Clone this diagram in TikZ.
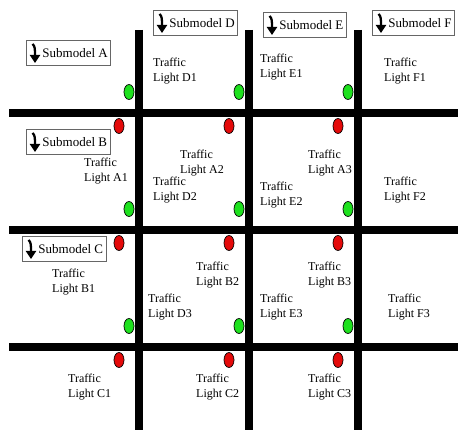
\documentclass[tikz,border=0pt]{standalone}
\usepackage{fontspec}
\setmainfont{Liberation Serif}
\usetikzlibrary{shapes.geometric,arrows.meta}
\definecolor{goGreen}{RGB}{30,225,30}
\definecolor{stopRed}{RGB}{228,10,10}
\tikzset{
    road/.style={line width=8.5pt},
    golight/.style={ellipse, draw, line width=0.7pt, fill=goGreen, minimum width=10pt, minimum height=15pt, inner sep=0pt},
    stoplight/.style={golight, fill=stopRed},
    tlabel/.style={anchor=west, align=left, inner sep=0pt, font=\fontsize{12}{14.5}\selectfont},
    subbox/.style={draw=gray!80!black, line width=0.9pt, anchor=west, minimum height=25pt, inner xsep=3pt,
        font=\fontsize{13}{15}\selectfont, execute at begin node=\hspace*{13pt}},
    turn/.style={line width=2.3pt, -{Triangle[length=8pt,width=10pt]}}
}
\begin{document}
\begin{tikzpicture}[x=1pt, y=-1pt]
    \useasboundingbox (0,0) rectangle (474,438);
    % Đường dọc và đường ngang
    \foreach \x in {139,249,358} \draw[road] (\x,30) -- (\x,430);
    \foreach \y in {113,230,347} \draw[road] (9,\y) -- (458,\y);
    % Đèn giao thông
    \foreach \x [count=\i] in {139,249,358}
        \foreach \y [count=\j] in {113,230,347} {
            \node[golight] (g\i\j) at (\x-10,\y-21) {};
            \node[stoplight] (r\i\j) at (\x-20,\y+13) {};
        }
    % Các submodel
    \node[subbox] (smA) at (26,53) {Submodel A};
    \node[subbox] (smB) at (26,142) {Submodel B};
    \node[subbox] (smC) at (22,249) {Submodel C};
    \node[subbox] (smD) at (153,23) {Submodel D};
    \node[subbox] (smE) at (263,25) {Submodel E};
    \node[subbox] (smF) at (372,23) {Submodel F};
    \foreach \s in {A,B,C,D,E,F}
        \draw[turn] ([xshift=6.5pt,yshift=9pt]sm\s.west) .. controls ([xshift=9pt,yshift=7pt]sm\s.west)
            and ([xshift=9pt,yshift=4pt]sm\s.west) .. ([xshift=9pt,yshift=-10pt]sm\s.west);
    % Nhãn đèn
    \node[tlabel] (tD1) at (153,71) {Traffic\\Light D1};
    \node[tlabel] (tE1) at (260,67) {Traffic\\Light E1};
    \node[tlabel] (tF1) at (384,71) {Traffic\\Light F1};
    \node[tlabel] (tA1) at (84,171) {Traffic\\Light A1};
    \node[tlabel] (tA2) at (180,163) {Traffic\\Light A2};
    \node[tlabel] (tD2) at (153,190) {Traffic\\Light D2};
    \node[tlabel] (tA3) at (308,163) {Traffic\\Light A3};
    \node[tlabel] (tE2) at (260,195) {Traffic\\Light E2};
    \node[tlabel] (tF2) at (384,190) {Traffic\\Light F2};
    \node[tlabel] (tB1) at (52,282) {Traffic\\Light B1};
    \node[tlabel] (tB2) at (196,275) {Traffic\\Light B2};
    \node[tlabel] (tD3) at (148,307) {Traffic\\Light D3};
    \node[tlabel] (tB3) at (308,275) {Traffic\\Light B3};
    \node[tlabel] (tE3) at (260,307) {Traffic\\Light E3};
    \node[tlabel] (tF3) at (388,307) {Traffic\\Light F3};
    \node[tlabel] (tC1) at (68,387) {Traffic\\Light C1};
    \node[tlabel] (tC2) at (196,387) {Traffic\\Light C2};
    \node[tlabel] (tC3) at (308,387) {Traffic\\Light C3};
\end{tikzpicture}
\end{document}
